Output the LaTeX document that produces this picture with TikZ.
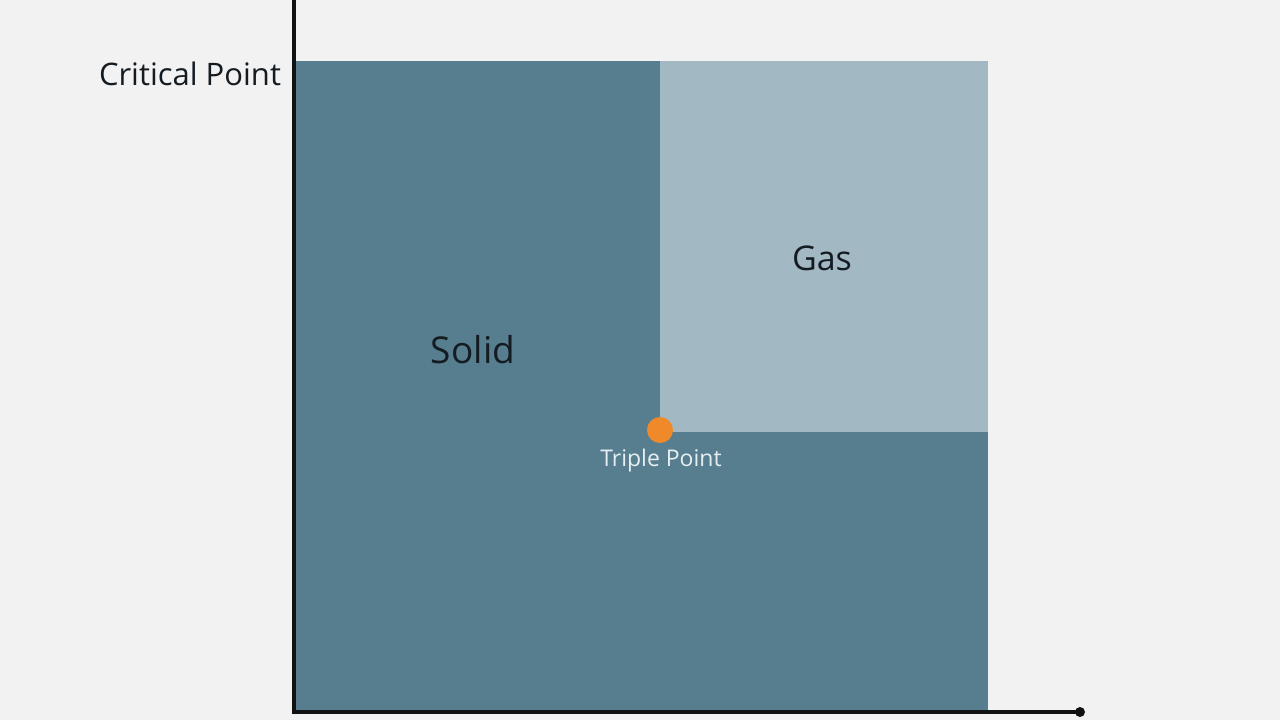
\documentclass[tikz,border=0pt]{standalone}
\usepackage{fontspec}
\setmainfont{Open Sans}
\definecolor{bg}{HTML}{F2F2F2}
\definecolor{solidc}{HTML}{577E8F}
\definecolor{gasc}{HTML}{A2B9C3}
\definecolor{dotc}{HTML}{F0892A}
\definecolor{axisc}{HTML}{111111}
\definecolor{tpc}{HTML}{E6EEF2}
\definecolor{txtc}{HTML}{141C22}
\begin{document}
\begin{tikzpicture}[x=1pt,y=-1pt,
  lbl/.style={inner sep=0pt,text=txtc},
  axisline/.style={draw=axisc,line width=3.5pt}]
\fill[bg] (0,0) rectangle (1280,720);
\useasboundingbox (0,0) rectangle (1280,720);
\fill[solidc] (296,61) rectangle (988,712);
\fill[gasc] (660,61) rectangle (988,432);
\coordinate (top) at (294,0);
\coordinate (origin) at (294,712);
\coordinate (xend) at (1080,712);
\draw[axisline] (top) -- (origin) -- (xend);
\fill[axisc] (xend) circle (5);
\node[circle,fill=dotc,minimum size=26pt,inner sep=0pt] (tp) at (660,430) {};
\node[lbl,font=\fontsize{31}{36}\selectfont] (cp) at (190,74) {Critical Point};
\node[lbl,font=\fontsize{37}{44}\selectfont] (solid) at (473,350) {Solid};
\node[lbl,font=\fontsize{34}{40}\selectfont] (gas) at (822,258) {Gas};
\node[inner sep=0pt,text=tpc,font=\fontsize{23}{27}\selectfont] (tpl) at (661,461) {Triple Point};
\end{tikzpicture}
\end{document}
